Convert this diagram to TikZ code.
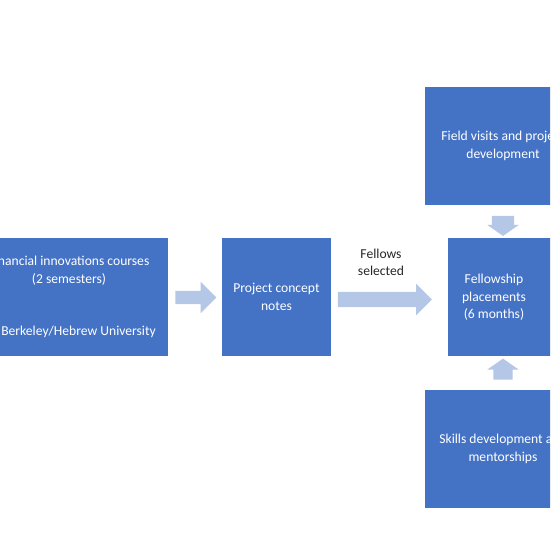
\documentclass[tikz,border=0pt]{standalone}
\usepackage{fontspec}
\setmainfont{Carlito}
\usetikzlibrary{shapes.arrows,positioning}
\definecolor{boxblue}{HTML}{4472C4}
\definecolor{arrowblue}{HTML}{B4C7E7}
\definecolor{labelgray}{HTML}{262626}
\tikzset{
  stagebox/.style={fill=boxblue, draw=none, minimum width=#1, minimum height=118,
    text=white, align=center, inner sep=0,
    font=\fontsize{13.6}{17.5}\selectfont},
  stagebox/.default=110,
  flow/.style={single arrow, fill=arrowblue, draw=none, inner xsep=0,
    single arrow tip angle=#1},
  flow/.default=90
}
\begin{document}
\begin{tikzpicture}[x=1pt, y=-1pt]
    \useasboundingbox (0,0) rectangle (550,550);
    \clip (0,0) rectangle (550,550);
    % stages
    \node[stagebox=198] (courses) at (69,297) {Financial innovations courses\\(2 semesters)\\~\\~\\UC Berkeley/Hebrew University};
    \node[stagebox=109] (concept) at (276.5,297) {Project concept\\notes};
    \node[stagebox=112, anchor=west] (place) at (448,297) {};
    \node[text=white, align=center, font=\fontsize{13.6}{17.5}\selectfont] (placetxt) at (494,297.5) {Fellowship\\placements\\(6 months)};
    \node[stagebox=156] (field) at (503,146) {Field visits and project\\development};
    \node[stagebox=156] (skills) at (503,449) {Skills development and\\mentorships};
    % block arrows
    \node[flow, inner ysep=6.5, single arrow head extend=9, minimum height=41] (a1) at (192.5,297.5) {};
    \node[flow, inner ysep=7.5, single arrow head extend=8, minimum height=94] (a2) at (381,299.5) {};
    \node[flow=110, inner ysep=11, single arrow head extend=4.5, minimum height=20, rotate=-90] (a3) at (503,222) {};
    \node[flow=110, inner ysep=9.5, single arrow head extend=6, minimum height=21, rotate=90] (a4) at (503,372.5) {};
    \node[text=labelgray, align=center, font=\fontsize{13.6}{17.5}\selectfont, above=12pt of a2.north, anchor=south] (sel) {Fellows\\selected};
\end{tikzpicture}
\end{document}
